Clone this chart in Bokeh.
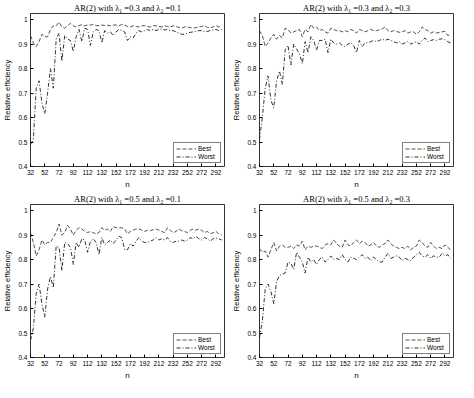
from bokeh.plotting import figure
from bokeh.layouts import column, row
from bokeh.models import FixedTicker, NumeralTickFormatter, Legend, LegendItem, Range1d
from bokeh.embed import file_html
from bokeh.resources import INLINE

n = list(range(32, 301, 4))

titles = [
    "AR(2) with \u03bb\u2081 =0.3 and \u03bb\u2082 =0.1",
    "AR(2) with \u03bb\u2081 =0.3 and \u03bb\u2082 =0.3",
    "AR(2) with \u03bb\u2081 =0.5 and \u03bb\u2082 =0.1",
    "AR(2) with \u03bb\u2081 =0.5 and \u03bb\u2082 =0.3",
]

best_1 = [0.935, 0.905, 0.89, 0.91, 0.94, 0.93, 0.93, 0.96, 0.975, 0.975,
          0.99, 0.97, 0.965, 0.975, 0.985, 0.975, 0.97, 0.975, 0.98, 0.975,
          0.978, 0.978, 0.98, 0.976, 0.975, 0.978, 0.976, 0.977, 0.975, 0.978,
          0.978, 0.975, 0.98, 0.978, 0.972, 0.97, 0.975, 0.972, 0.97, 0.975,
          0.975, 0.972, 0.97, 0.975, 0.975, 0.972, 0.97, 0.975, 0.972, 0.97,
          0.975, 0.972, 0.968, 0.965, 0.97, 0.97, 0.967, 0.965, 0.968, 0.97,
          0.972, 0.975, 0.968, 0.966, 0.97, 0.975, 0.97, 0.975]
worst_1 = [0.49, 0.51, 0.72, 0.75, 0.66, 0.615, 0.70, 0.80, 0.72, 0.92,
           0.945, 0.83, 0.935, 0.92, 0.915, 0.87, 0.93, 0.96, 0.91, 0.965,
           0.96, 0.895, 0.95, 0.96, 0.955, 0.905, 0.955, 0.945, 0.95, 0.935,
           0.95, 0.96, 0.955, 0.95, 0.915, 0.93, 0.925, 0.945, 0.955, 0.95,
           0.955, 0.96, 0.955, 0.96, 0.955, 0.96, 0.962, 0.958, 0.96, 0.955,
           0.955, 0.95, 0.945, 0.94, 0.94, 0.945, 0.948, 0.95, 0.952, 0.955,
           0.955, 0.95, 0.952, 0.955, 0.958, 0.96, 0.955, 0.96]

best_2 = [0.955, 0.935, 0.89, 0.905, 0.925, 0.94, 0.92, 0.935, 0.925, 0.965,
          0.96, 0.945, 0.95, 0.955, 0.96, 0.93, 0.96, 0.95, 0.98, 0.965,
          0.97, 0.955, 0.96, 0.95, 0.945, 0.965, 0.96, 0.955, 0.955, 0.95,
          0.955, 0.95, 0.96, 0.955, 0.945, 0.96, 0.955, 0.95, 0.955, 0.96,
          0.955, 0.955, 0.958, 0.962, 0.97, 0.955, 0.95, 0.955, 0.952, 0.948,
          0.95, 0.955, 0.945, 0.95, 0.95, 0.94, 0.95, 0.97, 0.96, 0.955,
          0.945, 0.95, 0.945, 0.948, 0.95, 0.952, 0.935, 0.94]
worst_2 = [0.51, 0.60, 0.72, 0.77, 0.67, 0.64, 0.75, 0.79, 0.735, 0.875,
           0.895, 0.815, 0.90, 0.88, 0.86, 0.82, 0.91, 0.865, 0.93, 0.915,
           0.875, 0.915, 0.915, 0.92, 0.865, 0.92, 0.905, 0.90, 0.905, 0.895,
           0.89, 0.90, 0.905, 0.895, 0.865, 0.915, 0.89, 0.905, 0.905, 0.91,
           0.915, 0.91, 0.915, 0.92, 0.915, 0.92, 0.915, 0.91, 0.905, 0.91,
           0.90, 0.905, 0.91, 0.90, 0.905, 0.91, 0.90, 0.915, 0.925, 0.91,
           0.915, 0.918, 0.915, 0.92, 0.922, 0.918, 0.91, 0.905]

best_3 = [0.91, 0.87, 0.815, 0.84, 0.88, 0.86, 0.87, 0.87, 0.89, 0.91,
          0.945, 0.90, 0.91, 0.94, 0.925, 0.90, 0.92, 0.93, 0.925, 0.915,
          0.91, 0.915, 0.91, 0.905, 0.91, 0.93, 0.92, 0.925, 0.915, 0.935,
          0.93, 0.93, 0.93, 0.925, 0.905, 0.915, 0.92, 0.925, 0.925, 0.92,
          0.915, 0.92, 0.918, 0.922, 0.925, 0.92, 0.915, 0.91, 0.93, 0.92,
          0.91, 0.915, 0.925, 0.918, 0.915, 0.91, 0.92, 0.925, 0.92, 0.925,
          0.92, 0.91, 0.915, 0.905, 0.91, 0.915, 0.905, 0.90]
worst_3 = [0.47, 0.52, 0.66, 0.70, 0.62, 0.565, 0.68, 0.73, 0.685, 0.855,
           0.85, 0.755, 0.87, 0.865, 0.85, 0.78, 0.87, 0.85, 0.885, 0.88,
           0.83, 0.875, 0.885, 0.87, 0.82, 0.89, 0.86, 0.87, 0.88, 0.865,
           0.88, 0.895, 0.89, 0.84, 0.84, 0.865, 0.855, 0.875, 0.89, 0.875,
           0.87, 0.87, 0.875, 0.88, 0.89, 0.88, 0.885, 0.88, 0.89, 0.875,
           0.87, 0.875, 0.875, 0.88, 0.875, 0.88, 0.89, 0.885, 0.895, 0.885,
           0.88, 0.89, 0.885, 0.875, 0.885, 0.888, 0.885, 0.88]

best_4 = [0.845, 0.83, 0.835, 0.81, 0.84, 0.87, 0.835, 0.855, 0.86, 0.85,
          0.85, 0.855, 0.845, 0.86, 0.855, 0.875, 0.84, 0.855, 0.85, 0.855,
          0.855, 0.85, 0.845, 0.86, 0.865, 0.86, 0.88, 0.865, 0.855, 0.85,
          0.88, 0.86, 0.855, 0.87, 0.88, 0.865, 0.875, 0.87, 0.855, 0.86,
          0.87, 0.855, 0.85, 0.86, 0.865, 0.88, 0.865, 0.855, 0.85, 0.845,
          0.85, 0.845, 0.855, 0.84, 0.85, 0.855, 0.88, 0.87, 0.855, 0.85,
          0.87, 0.855, 0.845, 0.85, 0.845, 0.86, 0.85, 0.84]
worst_4 = [0.48, 0.55, 0.68, 0.70, 0.67, 0.62, 0.71, 0.735, 0.74, 0.745,
           0.79, 0.785, 0.76, 0.83, 0.81, 0.79, 0.745, 0.81, 0.79, 0.80,
           0.78, 0.80, 0.81, 0.79, 0.80, 0.815, 0.80, 0.805, 0.80, 0.82,
           0.80, 0.79, 0.81, 0.805, 0.80, 0.81, 0.82, 0.805, 0.81, 0.795,
           0.81, 0.80, 0.79, 0.79, 0.81, 0.825, 0.805, 0.81, 0.815, 0.81,
           0.795, 0.805, 0.80, 0.795, 0.81, 0.82, 0.83, 0.815, 0.81, 0.82,
           0.805, 0.815, 0.81, 0.81, 0.825, 0.815, 0.82, 0.805]

x_ticks = list(range(32, 293, 20))
y_ticks = [0.4, 0.5, 0.6, 0.7, 0.8, 0.9, 1.0]
legend_labels = ["Best", "Worst"]

best_all = [best_1, best_2, best_3, best_4]
worst_all = [worst_1, worst_2, worst_3, worst_4]

SANS = "Liberation Sans"


def make_panel(title, best, worst):
    p = figure(width=229, height=191, output_backend="svg", toolbar_location=None,
               x_range=Range1d(32, 304), y_range=Range1d(0.4, 1.025),
               min_border_left=26, min_border_right=5, min_border_top=12, min_border_bottom=24)
    p.title.text = title
    p.title.text_font = "Liberation Serif"
    p.title.text_font_size = "8.5px"
    p.title.text_font_style = "normal"
    p.title.text_color = "black"
    p.title.align = "center"
    p.title.standoff = 1
    p.xgrid.visible = False
    p.ygrid.visible = False
    p.outline_line_color = "black"
    p.outline_line_width = 0.8

    r1 = p.line(n, best, line_color="#404040", line_width=0.9, line_dash="4 2")
    r2 = p.line(n, worst, line_color="#1a1a1a", line_width=0.9, line_dash="4 2 1 2")

    for ax in (p.xaxis[0], p.yaxis[0]):
        ax.major_tick_in = 3
        ax.major_tick_out = 0
        ax.minor_tick_line_color = None
        ax.axis_line_color = None
        ax.major_label_text_font = SANS
        ax.major_label_text_font_size = "6.5px"
        ax.major_label_text_color = "black"
        ax.major_label_standoff = 3
        ax.axis_label_text_font = SANS
        ax.axis_label_text_font_style = "normal"
        ax.axis_label_text_color = "black"
    p.xaxis[0].ticker = FixedTicker(ticks=x_ticks)
    p.yaxis[0].ticker = FixedTicker(ticks=y_ticks)
    p.yaxis[0].formatter = NumeralTickFormatter(format="0.[0]")
    p.xaxis[0].axis_label = "n"
    p.xaxis[0].axis_label_text_font_size = "8px"
    p.xaxis[0].axis_label_standoff = 2
    p.yaxis[0].axis_label = "Relative efficiency"
    p.yaxis[0].axis_label_text_font_size = "7.5px"
    p.yaxis[0].axis_label_standoff = 3

    legend = Legend(items=[LegendItem(label=legend_labels[0], renderers=[r1]),
                           LegendItem(label=legend_labels[1], renderers=[r2])],
                    location="bottom_right")
    legend.label_text_font = SANS
    legend.label_text_font_size = "6.5px"
    legend.label_text_color = "black"
    legend.glyph_width = 20
    legend.glyph_height = 7
    legend.label_height = 7
    legend.spacing = 1
    legend.padding = 2
    legend.margin = 3
    legend.label_standoff = 2
    legend.border_line_color = "black"
    legend.border_line_width = 0.8
    legend.background_fill_alpha = 1
    p.add_layout(legend)
    return p


panels = [make_panel(t, b, w) for t, b, w in zip(titles, best_all, worst_all)]
layout = column(row(panels[0], panels[1]), row(panels[2], panels[3]))
open("out.html", "w").write(file_html(layout, INLINE))
